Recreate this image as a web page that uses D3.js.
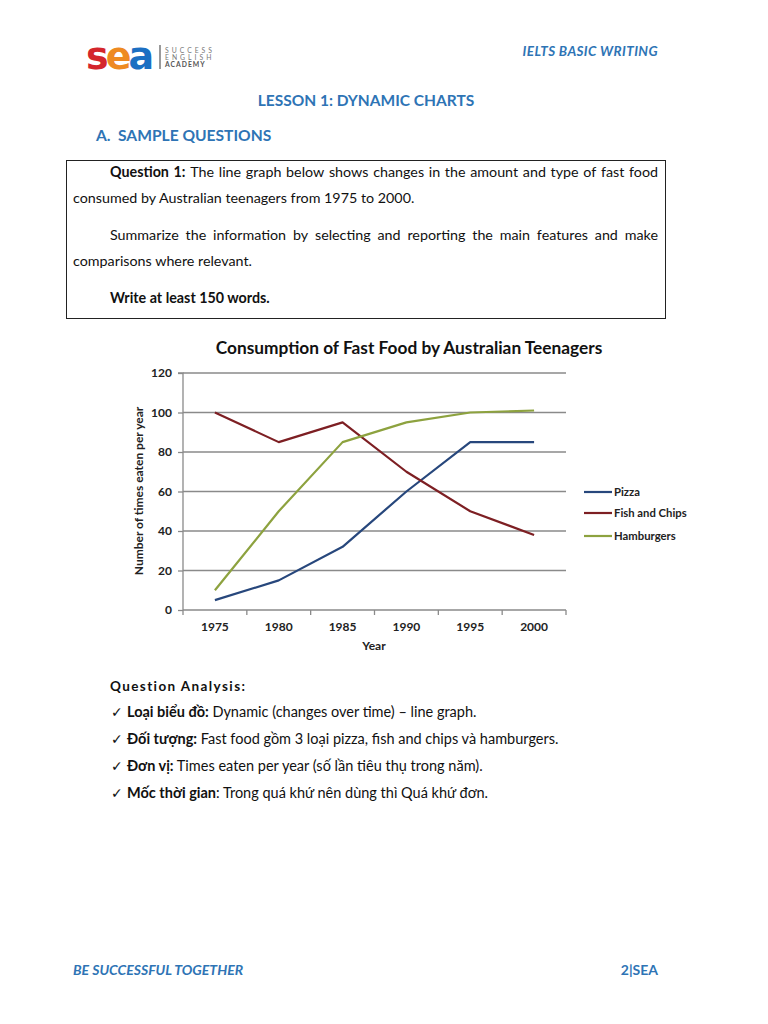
<!DOCTYPE html>
<html lang="en">
<head>
<meta charset="utf-8">
<script src="https://d3js.org/d3.v7.min.js"></script>
<style>
  body { margin: 0; padding: 0; background: #fff; }
  svg { display: block; font-family: Lato, "Open Sans", "Noto Sans", sans-serif; }
</style>
</head>
<body>
<svg id="page" width="768" height="1024"></svg>
<script>
// chart data
const years = ['1975', '1980', '1985', '1990', '1995', '2000'];
const pizza = [5, 15, 32, 60, 85, 85];
const fishChips = [100, 85, 95, 70, 50, 38];
const hamburgers = [10, 50, 85, 95, 100, 101];
const seriesNames = ['Pizza', 'Fish and Chips', 'Hamburgers'];
const seriesColors = ['#27477c', '#7d1f23', '#8da23f'];
const yTicks = [0, 20, 40, 60, 80, 100, 120];

const blue = '#2e74b5';
const bodySize = '14.3px';
const svg = d3.select('#page');

// ---- header ----
const logo = svg.append('g');
const logoLetters = [['s', '#d4262c'], ['e', '#ee8a21'], ['a', '#1c6fc2']];
const lt = logo.append('text').attr('x', 86).attr('y', 69)
  .style('font-family', '"DejaVu Sans"').style('font-size', '38px')
  .style('font-weight', 'bold').style('letter-spacing', '-3px');
logoLetters.forEach(l => lt.append('tspan').attr('fill', l[1]).text(l[0]));
logo.append('rect').attr('x', 159).attr('y', 45).attr('width', 2).attr('height', 24).attr('fill', '#9a9a9a');
['SUCCESS', 'ENGLISH', 'ACADEMY'].forEach((t, i) => {
  logo.append('text').attr('x', 165).attr('y', 53 + i * 7)
    .style('font-size', '6.8px').style('letter-spacing', i == 2 ? '1px' : '3px')
    .style('font-weight', i == 2 ? 'bold' : 'normal')
    .attr('fill', i == 2 ? '#555' : '#777').text(t);
});

svg.append('text').attr('x', 658).attr('y', 56).attr('text-anchor', 'end')
  .attr('fill', blue).style('font-size', '13.5px').style('font-weight', 'bold').style('font-style', 'italic')
  .style('letter-spacing', '0.4px').text('IELTS BASIC WRITING');

svg.append('text').attr('x', 366).attr('y', 106).attr('text-anchor', 'middle')
  .attr('fill', blue).style('font-size', '15.5px').style('font-weight', 'bold')
  .text('LESSON 1: DYNAMIC CHARTS');
svg.append('text').attr('x', 96).attr('y', 141)
  .attr('fill', blue).style('font-size', '15.6px').style('font-weight', 'bold').text('A.');
svg.append('text').attr('x', 118).attr('y', 141)
  .attr('fill', blue).style('font-size', '15.6px').style('font-weight', 'bold').text('SAMPLE QUESTIONS');

// ---- question box ----
svg.append('rect').attr('x', 66.5).attr('y', 160.5).attr('width', 599).attr('height', 158)
  .attr('fill', 'none').attr('stroke', '#222').attr('stroke-width', 1);

// justified line: spread extra space between words
function justify(parts, x0, x1, y) {
  const g = svg.append('g').style('font-size', bodySize).attr('fill', '#111');
  const words = [];
  parts.forEach(p => p.text.split(' ').filter(w => w).forEach(w => words.push({ w, bold: p.bold })));
  const nodes = words.map(d => g.append('text').attr('y', y)
    .style('font-weight', d.bold ? 'bold' : 'normal').text(d.w));
  const widths = nodes.map(n => n.node().getComputedTextLength());
  const gap = (x1 - x0 - d3.sum(widths)) / (words.length - 1);
  let x = x0;
  nodes.forEach((n, i) => { n.attr('x', x); x += widths[i] + gap; });
}
function plain(parts, x, y) {
  const t = svg.append('text').attr('x', x).attr('y', y).style('font-size', bodySize).attr('fill', '#111');
  parts.forEach(p => t.append('tspan').style('font-weight', p.bold ? 'bold' : 'normal').text(p.text));
}
justify([{ text: 'Question 1:', bold: true }, { text: 'The line graph below shows changes in the amount and type of fast food' }], 110, 658, 177);
plain([{ text: 'consumed by Australian teenagers from 1975 to 2000.' }], 73, 203);
justify([{ text: 'Summarize the information by selecting and reporting the main features and make' }], 110, 658, 240);
plain([{ text: 'comparisons where relevant.' }], 73, 266);
plain([{ text: 'Write at least 150 words.', bold: true }], 110, 303);

// ---- chart ----
const x = d3.scaleBand().domain(years).range([183, 566]);
const y = d3.scaleLinear().domain([0, 120]).range([610, 373]);
const chart = svg.append('g').attr('fill', '#222');

chart.append('text').attr('x', 409).attr('y', 354).attr('text-anchor', 'middle')
  .style('font-size', '17.3px').style('font-weight', 'bold').attr('fill', '#111')
  .text('Consumption of Fast Food by Australian Teenagers');

// gridlines
chart.append('g').selectAll('line').data(yTicks.slice(1)).join('line')
  .attr('x1', x.range()[0]).attr('x2', x.range()[1])
  .attr('y1', d => y(d)).attr('y2', d => y(d))
  .attr('stroke', '#8a8a8a').attr('stroke-width', 1.3);

// y axis
const yAxis = chart.append('g').attr('transform', `translate(${x.range()[0]},0)`)
  .call(d3.axisLeft(y).tickValues(yTicks).tickSize(5).tickPadding(6));
yAxis.selectAll('path, line').attr('stroke', '#8a8a8a').attr('stroke-width', 1.3);
yAxis.select('.domain').attr('d', `M-5,${y(120)}H0V${y(0)}`);
yAxis.selectAll('text').style('font-size', '12px').style('font-weight', 'bold')
  .style('font-family', 'Lato, sans-serif').attr('fill', '#222');

// x axis: labels at band centres, ticks at band edges
const xAxis = chart.append('g').attr('transform', `translate(0,${y(0)})`)
  .call(d3.axisBottom(x).tickSize(0).tickPadding(12));
xAxis.select('.domain').attr('stroke', '#8a8a8a').attr('stroke-width', 1.3)
  .attr('d', `M${x.range()[0]},0H${x.range()[1]}`);
xAxis.selectAll('text').style('font-size', '12px').style('font-weight', 'bold')
  .style('font-family', 'Lato, sans-serif').attr('fill', '#222');
xAxis.selectAll('line.edge').data(years.map(x).concat([x.range()[1]])).join('line')
  .attr('class', 'edge').attr('x1', d => d).attr('x2', d => d).attr('y1', 0).attr('y2', 5)
  .attr('stroke', '#8a8a8a').attr('stroke-width', 1.3);

chart.append('text').attr('x', 374).attr('y', 650).attr('text-anchor', 'middle')
  .style('font-size', '12px').style('font-weight', 'bold').text('Year');
chart.append('text').attr('transform', 'translate(143,491) rotate(-90)').attr('text-anchor', 'middle')
  .style('font-size', '12px').style('font-weight', 'bold')
  .text('Number of times eaten per year');

// lines
const line = d3.line().x((d, i) => x(years[i]) + x.bandwidth() / 2).y(d => y(d));
[pizza, fishChips, hamburgers].forEach((vals, k) => {
  chart.append('path').datum(vals).attr('d', line).attr('fill', 'none')
    .attr('stroke', seriesColors[k]).attr('stroke-width', 2.2).attr('stroke-linejoin', 'round');
});

// legend
const legend = chart.append('g').attr('transform', 'translate(584,492)');
seriesNames.forEach((n, i) => {
  const yy = [0, 21, 44][i];
  legend.append('line').attr('x1', 0).attr('x2', 28).attr('y1', yy).attr('y2', yy)
    .attr('stroke', seriesColors[i]).attr('stroke-width', 2.2);
  legend.append('text').attr('x', 30).attr('y', yy + 4).style('font-size', '11.3px')
    .style('font-weight', 'bold').text(n);
});

// ---- question analysis ----
svg.append('text').attr('x', 110).attr('y', 691).style('font-size', '13.5px')
  .style('font-weight', 'bold').style('letter-spacing', '1.4px').attr('fill', '#111')
  .text('Question Analysis:');
const analysis = [
  ['Loại biểu đồ:', ' Dynamic (changes over time) – line graph.'],
  ['Đối tượng:', ' Fast food gồm 3 loại pizza, fish and chips và hamburgers.'],
  ['Đơn vị:', ' Times eaten per year (số lần tiêu thụ trong năm).'],
  ['Mốc thời gian', ': Trong quá khứ nên dùng thì Quá khứ đơn.']
];
analysis.forEach((a, i) => {
  const yy = 717 + i * 27;
  svg.append('text').attr('x', 111).attr('y', yy).style('font-family', '"DejaVu Sans"')
    .style('font-size', '14px').attr('fill', '#111').text('✓');
  const t = svg.append('text').attr('x', 127).attr('y', yy).style('font-size', '14.5px').attr('fill', '#111');
  t.append('tspan').style('font-weight', 'bold').text(a[0]);
  t.append('tspan').text(a[1]);
});

// ---- footer ----
svg.append('text').attr('x', 73).attr('y', 975).attr('fill', blue)
  .style('font-size', '14px').style('font-weight', 'bold').style('font-style', 'italic')
  .text('BE SUCCESSFUL TOGETHER');
svg.append('text').attr('x', 658).attr('y', 975).attr('text-anchor', 'end').attr('fill', blue)
  .style('font-size', '14px').style('font-weight', 'bold').text('2|SEA');
</script>
</body>
</html>
